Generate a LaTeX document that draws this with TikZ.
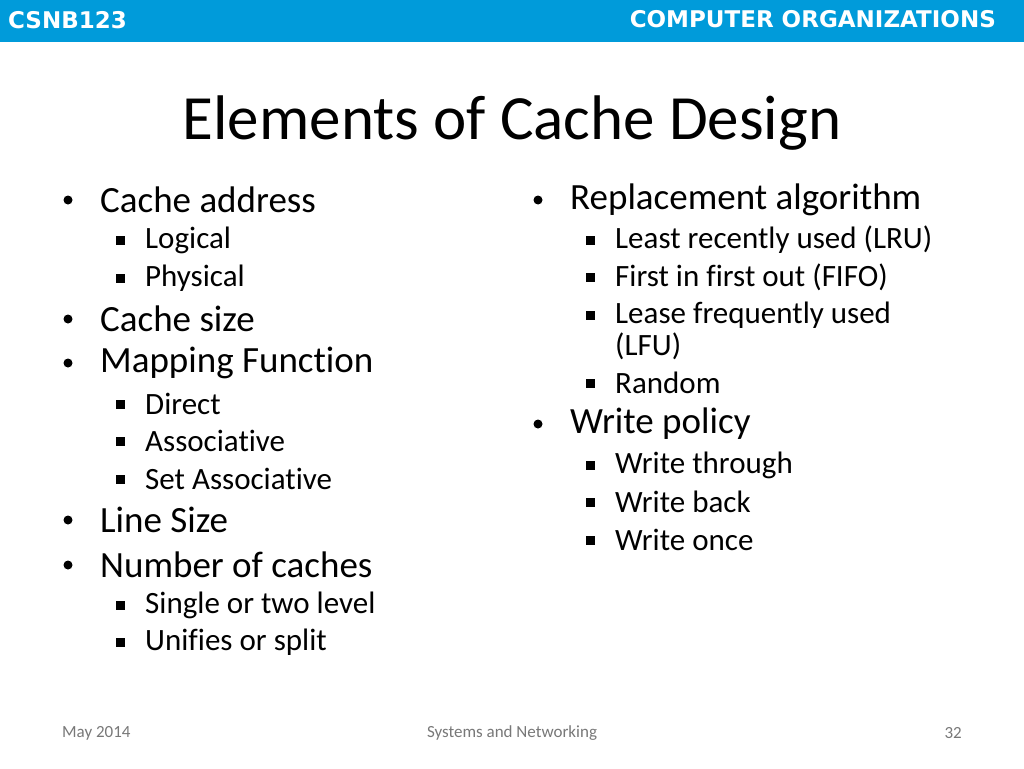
\documentclass[tikz,border=0pt]{standalone}
\usepackage{fontspec}
\setmainfont[RawFeature=-liga]{Carlito}
\newfontfamily\headfont{DejaVu Sans}
\definecolor{barblue}{RGB}{0,155,218}
\definecolor{footgray}{RGB}{120,120,120}
\tikzset{
  lvlone/.style={anchor=west, inner sep=0pt, font=\fontsize{37}{42}\selectfont},
  lvltwo/.style={anchor=west, inner sep=0pt, font=\fontsize{31}{36}\selectfont},
  head/.style={inner sep=0pt, text=white, font=\headfont\bfseries\fontsize{23}{26}\selectfont},
  foot/.style={inner sep=0pt, text=footgray, font=\fontsize{17}{20}\selectfont}
}
\newcommand{\dotbullet}[2]{\fill (#1,#2) circle (4.5);}
\newcommand{\sqbullet}[2]{\fill (#1-4.5,#2-4.5) rectangle (#1+4.5,#2+4.5);}
\begin{document}
\begin{tikzpicture}[x=1pt,y=-1pt]
    \useasboundingbox (0,0) rectangle (1024,768);
    \fill[white] (0,0) rectangle (1024,768);
    % header bar
    \fill[barblue] (0,0) rectangle (1024,42);
    \node[head, anchor=west] (course) at (8,20) {CSNB123};
    \node[head, anchor=east] (subject) at (996,19) {COMPUTER ORGANIZATIONS};
    % title
    \node[font=\fontsize{63}{72}\selectfont] (title) at (512,123) {Elements of Cache Design};
    % left column
    \dotbullet{68}{200}
    \node[lvlone] (addr) at (100,200) {Cache address};
    \sqbullet{120}{240} \node[lvltwo] (logical) at (145,240) {Logical};
    \sqbullet{120}{278} \node[lvltwo] (physical) at (145,278) {Physical};
    \dotbullet{68}{319}
    \node[lvlone] (size) at (100,319) {Cache size};
    \dotbullet{68}{363}
    \node[lvlone] (mapping) at (100,363) {Mapping Function};
    \sqbullet{120}{404} \node[lvltwo] (direct) at (145,404) {Direct};
    \sqbullet{120}{441} \node[lvltwo] (assoc) at (145,441) {Associative};
    \sqbullet{120}{479} \node[lvltwo] (setassoc) at (145,479) {Set Associative};
    \dotbullet{68}{520}
    \node[lvlone] (line) at (100,520) {Line Size};
    \dotbullet{68}{565}
    \node[lvlone] (number) at (100,565) {Number of caches};
    \sqbullet{120}{605} \node[lvltwo] (level) at (145,605) {Single or two level};
    \sqbullet{120}{642} \node[lvltwo] (split) at (145,642) {Unifies or split};
    % right column
    \dotbullet{538}{200}
    \node[lvlone] (replace) at (570,200) {Replacement algorithm};
    \sqbullet{590}{240} \node[lvltwo] (lru) at (615,240) {Least recently used (LRU)};
    \sqbullet{590}{277} \node[lvltwo] (fifo) at (615,277) {First in first out (FIFO)};
    \sqbullet{590}{315} \node[lvltwo] (lfu) at (615,315) {Lease frequently used};
    \node[lvltwo] (lfutwo) at (615,346) {(LFU)};
    \sqbullet{590}{383} \node[lvltwo] (random) at (615,383) {Random};
    \dotbullet{538}{424}
    \node[lvlone] (write) at (570,424) {Write policy};
    \sqbullet{590}{465} \node[lvltwo] (through) at (615,465) {Write through};
    \sqbullet{590}{502} \node[lvltwo] (back) at (615,502) {Write back};
    \sqbullet{590}{540} \node[lvltwo] (once) at (615,540) {Write once};
    % footer
    \node[foot, anchor=west] (date) at (62,733) {May 2014};
    \node[foot] (dept) at (512,733) {Systems and Networking};
    \node[foot, anchor=east] (page) at (962,733) {32};
\end{tikzpicture}
\end{document}
